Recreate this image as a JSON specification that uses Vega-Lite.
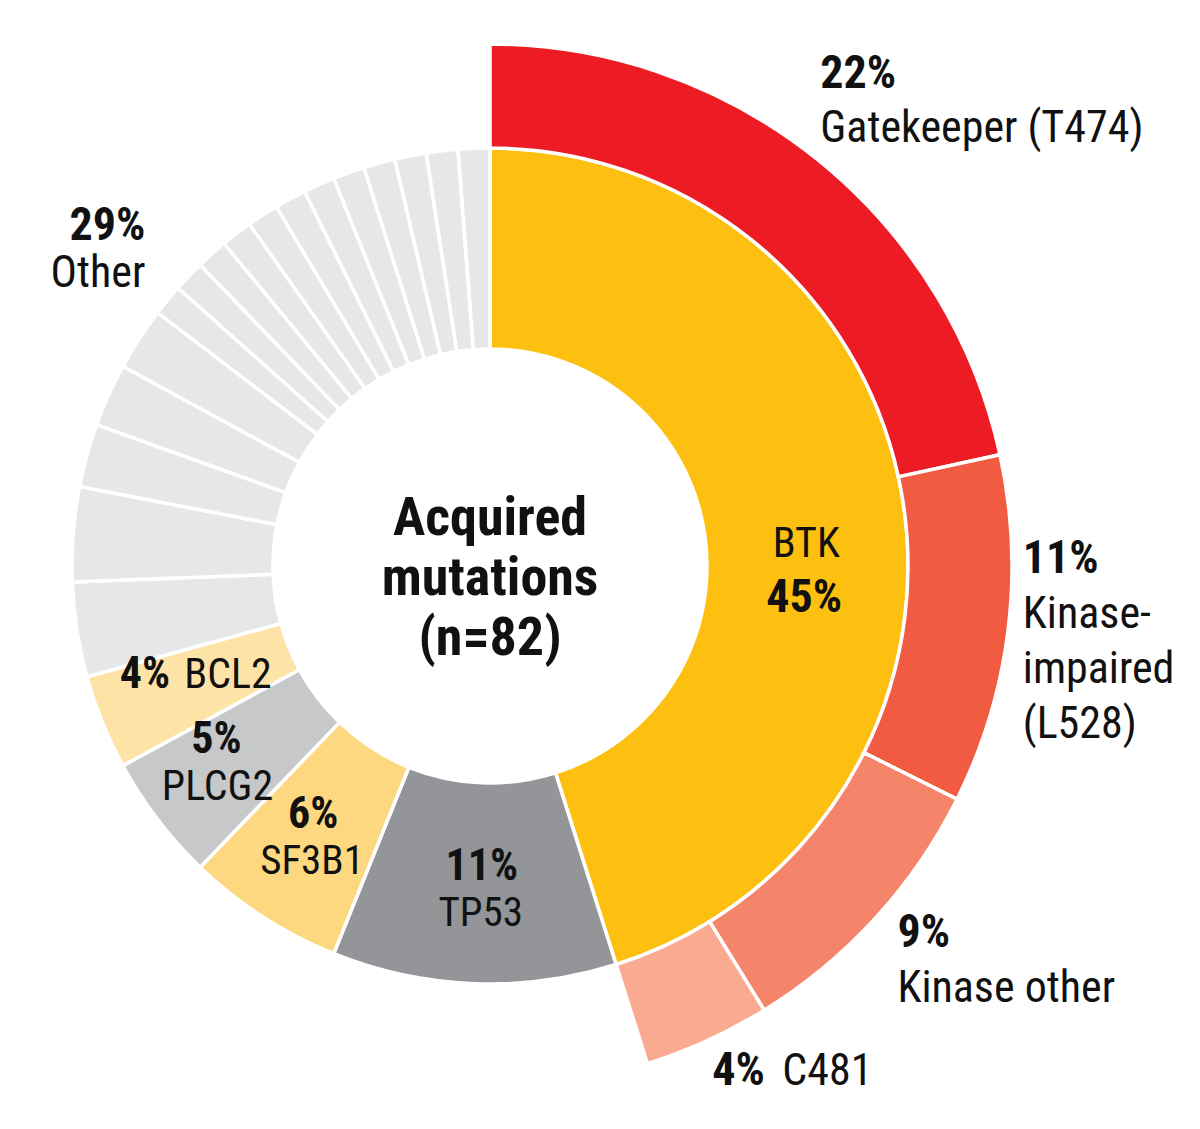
{
  "$schema": "https://vega.github.io/schema/vega-lite/v6.json",
  "width": 980,
  "height": 1132,
  "padding": 0,
  "background": "white",
  "config": {
    "view": {"stroke": null},
    "text": {"font": "Liberation Sans Narrow, Roboto Condensed, DejaVu Sans Condensed, Liberation Sans", "fill": "#111111"}
  },
  "datasets": {
    "genes": [
      {"gene": "BTK", "n": 37, "order": 1},
      {"gene": "TP53", "n": 9, "order": 2},
      {"gene": "SF3B1", "n": 5, "order": 3},
      {"gene": "PLCG2", "n": 4, "order": 4},
      {"gene": "BCL2", "n": 3, "order": 5},
      {"gene": "Other", "n": 3, "order": 6},
      {"gene": "Other", "n": 3, "order": 7},
      {"gene": "Other", "n": 2, "order": 8},
      {"gene": "Other", "n": 2, "order": 9},
      {"gene": "Other", "n": 2, "order": 10},
      {"gene": "Other", "n": 1, "order": 11},
      {"gene": "Other", "n": 1, "order": 12},
      {"gene": "Other", "n": 1, "order": 13},
      {"gene": "Other", "n": 1, "order": 14},
      {"gene": "Other", "n": 1, "order": 15},
      {"gene": "Other", "n": 1, "order": 16},
      {"gene": "Other", "n": 1, "order": 17},
      {"gene": "Other", "n": 1, "order": 18},
      {"gene": "Other", "n": 1, "order": 19},
      {"gene": "Other", "n": 1, "order": 20},
      {"gene": "Other", "n": 1, "order": 21},
      {"gene": "Other", "n": 1, "order": 22}
    ],
    "geneTotals": [
      {"gene": "BTK", "n": 37, "share": 0.451, "order": 1},
      {"gene": "TP53", "n": 9, "share": 0.110, "order": 2},
      {"gene": "SF3B1", "n": 5, "share": 0.061, "order": 3},
      {"gene": "PLCG2", "n": 4, "share": 0.049, "order": 4},
      {"gene": "BCL2", "n": 3, "share": 0.037, "order": 5},
      {"gene": "Other", "n": 24, "share": 0.293, "order": 6}
    ],
    "btkSites": [
      {"site": "Gatekeeper (T474)", "label": "Gatekeeper (T474)", "share": 0.22, "order": 1},
      {"site": "Kinase-impaired (L528)", "label": "Kinase-\nimpaired\n(L528)", "share": 0.11, "order": 2},
      {"site": "Kinase other", "label": "Kinase other", "share": 0.09, "order": 3},
      {"site": "C481", "label": "C481", "share": 0.04, "order": 4}
    ]
  },
  "layer": [
    {
      "data": {"name": "genes"},
      "mark": {"type": "arc", "innerRadius": 217, "outerRadius": 418, "stroke": "white", "strokeWidth": 3.5},
      "encoding": {
        "theta": {"field": "n", "type": "quantitative", "stack": true},
        "order": {"field": "order", "type": "quantitative"},
        "color": {
          "field": "gene", "type": "nominal", "legend": null,
          "scale": {
            "domain": ["BTK", "TP53", "SF3B1", "PLCG2", "BCL2", "Other"],
            "range": ["#FEC010", "#939598", "#FED880", "#C7C8CA", "#FEE3A6", "#E6E7E8"]
          }
        }
      }
    },
    {
      "data": {"name": "btkSites"},
      "mark": {"type": "arc", "innerRadius": 418, "outerRadius": 522, "stroke": "white", "strokeWidth": 3.5},
      "encoding": {
        "theta": {"field": "share", "type": "quantitative", "stack": true, "scale": {"range": [0, {"expr": "2*PI*37/82"}]}},
        "order": {"field": "order", "type": "quantitative"},
        "color": {
          "field": "site", "type": "nominal", "legend": null,
          "scale": {
            "domain": ["Gatekeeper (T474)", "Kinase-impaired (L528)", "Kinase other", "C481"],
            "range": ["#ED1C24", "#F15B41", "#F4846A", "#F9AA90"]
          }
        }
      }
    },
    {
      "data": {"name": "btkSites"},
      "mark": {"type": "text", "radius": 600, "align": "left", "baseline": "alphabetic", "dx": -46, "dy": -11, "fontSize": 46, "fontWeight": "bold"},
      "encoding": {
        "theta": {"field": "share", "type": "quantitative", "stack": true, "scale": {"range": [0, {"expr": "2*PI*37/82"}]}},
        "order": {"field": "order", "type": "quantitative"},
        "text": {"condition": {"test": "datum.site === 'Gatekeeper (T474)'", "field": "share", "type": "quantitative", "format": ".0%"}, "value": ""}
      }
    },
    {
      "data": {"name": "btkSites"},
      "mark": {"type": "text", "radius": 600, "align": "left", "baseline": "alphabetic", "dx": -46, "dy": 43, "fontSize": 44},
      "encoding": {
        "theta": {"field": "share", "type": "quantitative", "stack": true, "scale": {"range": [0, {"expr": "2*PI*37/82"}]}},
        "order": {"field": "order", "type": "quantitative"},
        "text": {"condition": {"test": "datum.site === 'Gatekeeper (T474)'", "field": "label"}, "value": ""}
      }
    },
    {
      "data": {"name": "btkSites"},
      "mark": {"type": "text", "radius": 540, "align": "left", "baseline": "alphabetic", "dx": -3, "dy": -60, "fontSize": 46, "fontWeight": "bold"},
      "encoding": {
        "theta": {"field": "share", "type": "quantitative", "stack": true, "scale": {"range": [0, {"expr": "2*PI*37/82"}]}},
        "order": {"field": "order", "type": "quantitative"},
        "text": {"condition": {"test": "datum.site === 'Kinase-impaired (L528)'", "field": "share", "type": "quantitative", "format": ".0%"}, "value": ""}
      }
    },
    {
      "data": {"name": "btkSites"},
      "mark": {"type": "text", "radius": 540, "align": "left", "baseline": "alphabetic", "dx": -3, "dy": -5, "fontSize": 44, "lineBreak": "\n", "lineHeight": 55},
      "encoding": {
        "theta": {"field": "share", "type": "quantitative", "stack": true, "scale": {"range": [0, {"expr": "2*PI*37/82"}]}},
        "order": {"field": "order", "type": "quantitative"},
        "text": {"condition": {"test": "datum.site === 'Kinase-impaired (L528)'", "field": "label"}, "value": ""}
      }
    },
    {
      "data": {"name": "btkSites"},
      "mark": {"type": "text", "radius": 560, "align": "left", "baseline": "alphabetic", "dx": -6, "dy": 3, "fontSize": 46, "fontWeight": "bold"},
      "encoding": {
        "theta": {"field": "share", "type": "quantitative", "stack": true, "scale": {"range": [0, {"expr": "2*PI*37/82"}]}},
        "order": {"field": "order", "type": "quantitative"},
        "text": {"condition": {"test": "datum.site === 'Kinase other'", "field": "share", "type": "quantitative", "format": ".0%"}, "value": ""}
      }
    },
    {
      "data": {"name": "btkSites"},
      "mark": {"type": "text", "radius": 560, "align": "left", "baseline": "alphabetic", "dx": -6, "dy": 58, "fontSize": 44},
      "encoding": {
        "theta": {"field": "share", "type": "quantitative", "stack": true, "scale": {"range": [0, {"expr": "2*PI*37/82"}]}},
        "order": {"field": "order", "type": "quantitative"},
        "text": {"condition": {"test": "datum.site === 'Kinase other'", "field": "label"}, "value": ""}
      }
    },
    {
      "data": {"name": "btkSites"},
      "mark": {"type": "text", "radius": 560, "align": "left", "baseline": "alphabetic", "dx": -11, "dy": 10, "fontSize": 46, "fontWeight": "bold"},
      "encoding": {
        "theta": {"field": "share", "type": "quantitative", "stack": true, "scale": {"range": [0, {"expr": "2*PI*37/82"}]}},
        "order": {"field": "order", "type": "quantitative"},
        "text": {"condition": {"test": "datum.site === 'C481'", "field": "share", "type": "quantitative", "format": ".0%"}, "value": ""}
      }
    },
    {
      "data": {"name": "btkSites"},
      "mark": {"type": "text", "radius": 560, "align": "left", "baseline": "alphabetic", "dx": 59, "dy": 10, "fontSize": 44},
      "encoding": {
        "theta": {"field": "share", "type": "quantitative", "stack": true, "scale": {"range": [0, {"expr": "2*PI*37/82"}]}},
        "order": {"field": "order", "type": "quantitative"},
        "text": {"condition": {"test": "datum.site === 'C481'", "field": "label"}, "value": ""}
      }
    },
    {
      "data": {"name": "geneTotals"},
      "mark": {"type": "text", "radius": 320, "align": "center", "baseline": "alphabetic", "dx": 0, "dy": 40, "fontSize": 42},
      "encoding": {
        "theta": {"field": "n", "type": "quantitative", "stack": true},
        "order": {"field": "order", "type": "quantitative"},
        "text": {"condition": {"test": "datum.gene === 'BTK'", "field": "gene"}, "value": ""}
      }
    },
    {
      "data": {"name": "geneTotals"},
      "mark": {"type": "text", "radius": 320, "align": "center", "baseline": "alphabetic", "dx": -2, "dy": 95, "fontSize": 46, "fontWeight": "bold"},
      "encoding": {
        "theta": {"field": "n", "type": "quantitative", "stack": true},
        "order": {"field": "order", "type": "quantitative"},
        "text": {"condition": {"test": "datum.gene === 'BTK'", "field": "share", "type": "quantitative", "format": ".0%"}, "value": ""}
      }
    },
    {
      "data": {"name": "geneTotals"},
      "mark": {"type": "text", "radius": 320, "align": "center", "baseline": "alphabetic", "dx": 4, "dy": -6, "fontSize": 44, "fontWeight": "bold"},
      "encoding": {
        "theta": {"field": "n", "type": "quantitative", "stack": true},
        "order": {"field": "order", "type": "quantitative"},
        "text": {"condition": {"test": "datum.gene === 'TP53'", "field": "share", "type": "quantitative", "format": ".0%"}, "value": ""}
      }
    },
    {
      "data": {"name": "geneTotals"},
      "mark": {"type": "text", "radius": 320, "align": "center", "baseline": "alphabetic", "dx": 3, "dy": 40, "fontSize": 41},
      "encoding": {
        "theta": {"field": "n", "type": "quantitative", "stack": true},
        "order": {"field": "order", "type": "quantitative"},
        "text": {"condition": {"test": "datum.gene === 'TP53'", "field": "gene"}, "value": ""}
      }
    },
    {
      "data": {"name": "geneTotals"},
      "mark": {"type": "text", "radius": 320, "align": "center", "baseline": "alphabetic", "dx": -3, "dy": -7, "fontSize": 44, "fontWeight": "bold"},
      "encoding": {
        "theta": {"field": "n", "type": "quantitative", "stack": true},
        "order": {"field": "order", "type": "quantitative"},
        "text": {"condition": {"test": "datum.gene === 'SF3B1'", "field": "share", "type": "quantitative", "format": ".0%"}, "value": ""}
      }
    },
    {
      "data": {"name": "geneTotals"},
      "mark": {"type": "text", "radius": 320, "align": "center", "baseline": "alphabetic", "dx": -4, "dy": 39, "fontSize": 41},
      "encoding": {
        "theta": {"field": "n", "type": "quantitative", "stack": true},
        "order": {"field": "order", "type": "quantitative"},
        "text": {"condition": {"test": "datum.gene === 'SF3B1'", "field": "gene"}, "value": ""}
      }
    },
    {
      "data": {"name": "geneTotals"},
      "mark": {"type": "text", "radius": 320, "align": "center", "baseline": "alphabetic", "dx": -19, "dy": -7, "fontSize": 44, "fontWeight": "bold"},
      "encoding": {
        "theta": {"field": "n", "type": "quantitative", "stack": true},
        "order": {"field": "order", "type": "quantitative"},
        "text": {"condition": {"test": "datum.gene === 'PLCG2'", "field": "share", "type": "quantitative", "format": ".0%"}, "value": ""}
      }
    },
    {
      "data": {"name": "geneTotals"},
      "mark": {"type": "text", "radius": 320, "align": "center", "baseline": "alphabetic", "dx": -18, "dy": 40, "fontSize": 42},
      "encoding": {
        "theta": {"field": "n", "type": "quantitative", "stack": true},
        "order": {"field": "order", "type": "quantitative"},
        "text": {"condition": {"test": "datum.gene === 'PLCG2'", "field": "gene"}, "value": ""}
      }
    },
    {
      "data": {"name": "geneTotals"},
      "mark": {"type": "text", "radius": 320, "align": "right", "baseline": "alphabetic", "dx": -23, "dy": 2, "fontSize": 44, "fontWeight": "bold"},
      "encoding": {
        "theta": {"field": "n", "type": "quantitative", "stack": true},
        "order": {"field": "order", "type": "quantitative"},
        "text": {"condition": {"test": "datum.gene === 'BCL2'", "field": "share", "type": "quantitative", "format": ".0%"}, "value": ""}
      }
    },
    {
      "data": {"name": "geneTotals"},
      "mark": {"type": "text", "radius": 320, "align": "left", "baseline": "alphabetic", "dx": -9, "dy": 2, "fontSize": 42},
      "encoding": {
        "theta": {"field": "n", "type": "quantitative", "stack": true},
        "order": {"field": "order", "type": "quantitative"},
        "text": {"condition": {"test": "datum.gene === 'BCL2'", "field": "gene"}, "value": ""}
      }
    },
    {
      "data": {"name": "geneTotals"},
      "mark": {"type": "text", "radius": 500, "align": "right", "baseline": "alphabetic", "dx": 53, "dy": -23, "fontSize": 46, "fontWeight": "bold"},
      "encoding": {
        "theta": {"field": "n", "type": "quantitative", "stack": true},
        "order": {"field": "order", "type": "quantitative"},
        "text": {"condition": {"test": "datum.gene === 'Other'", "field": "share", "type": "quantitative", "format": ".0%"}, "value": ""}
      }
    },
    {
      "data": {"name": "geneTotals"},
      "mark": {"type": "text", "radius": 500, "align": "right", "baseline": "alphabetic", "dx": 53, "dy": 24, "fontSize": 44},
      "encoding": {
        "theta": {"field": "n", "type": "quantitative", "stack": true},
        "order": {"field": "order", "type": "quantitative"},
        "text": {"condition": {"test": "datum.gene === 'Other'", "field": "gene"}, "value": ""}
      }
    },
    {
      "data": {"values": [{"title": "Acquired\nmutations\n(n=82)"}]},
      "mark": {"type": "text", "align": "center", "baseline": "alphabetic", "dy": -31, "fontSize": 54, "fontWeight": "bold", "lineBreak": "\n", "lineHeight": 60},
      "encoding": {
        "text": {"field": "title"}
      }
    }
  ],
  "resolve": {"scale": {"theta": "independent", "color": "independent"}}
}
